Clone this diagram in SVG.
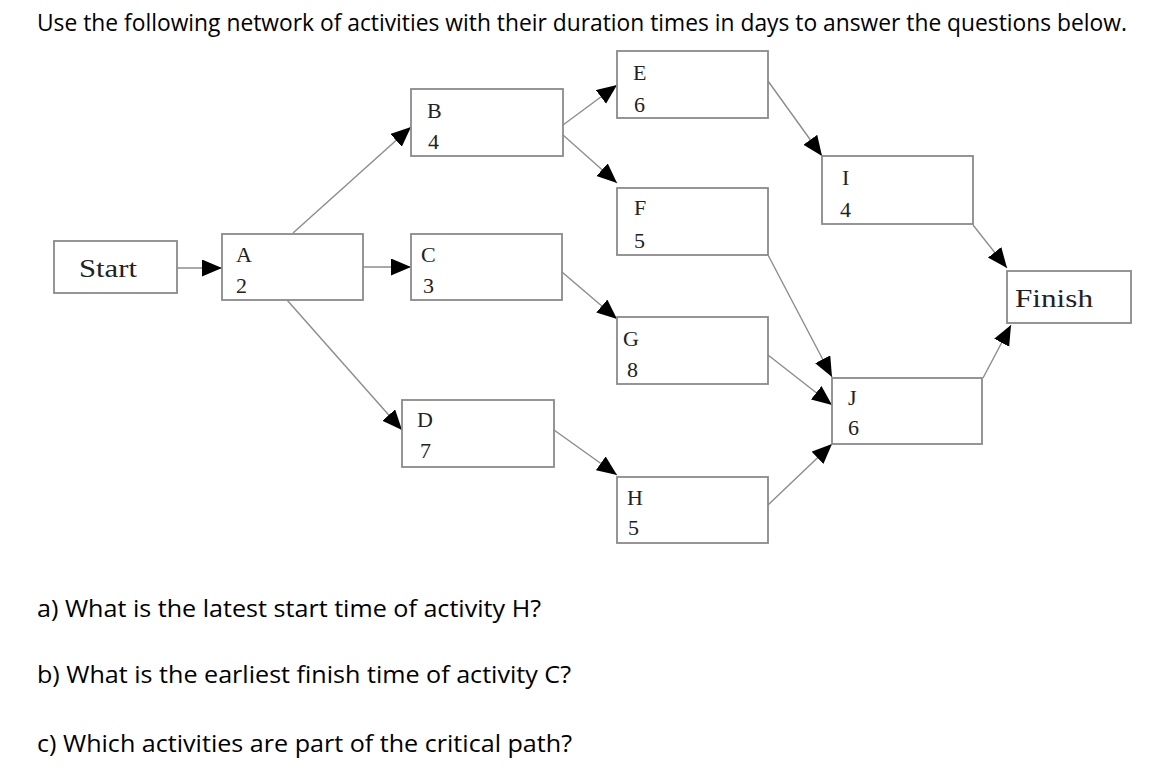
<svg xmlns="http://www.w3.org/2000/svg" width="1171" height="777" viewBox="0 0 1171 777">
<style>
.box{fill:#fff;stroke:#8a8a8a;stroke-width:1.8}
.lbl{font-family:"Liberation Serif","Times New Roman",serif;font-size:22px;fill:#222}
.big{font-family:"Liberation Serif","Times New Roman",serif;font-size:26px;fill:#222}
.q{font-family:"Open Sans","Liberation Sans",sans-serif;font-size:23px;fill:#000}
.con line{stroke:#8c8c8c;stroke-width:1.4;marker-end:url(#ah)}
</style>
<defs>
<marker id="ah" markerUnits="userSpaceOnUse" markerWidth="22" markerHeight="18" refX="20" refY="8.5" orient="auto">
<path d="M0,0 L20,8.5 L0,17 z" fill="#000"/>
</marker>
</defs>
<rect width="1171" height="777" fill="#fff"/>
<text class="q" x="37" y="31" textLength="1090" lengthAdjust="spacingAndGlyphs">Use the following network of activities with their duration times in days to answer the questions below.</text>

<g class="con" id="connectors">
<line x1="177" y1="268" x2="222" y2="268"/>
<line x1="293" y1="233" x2="411" y2="127"/>
<line x1="363" y1="267" x2="411" y2="267"/>
<line x1="287" y1="300" x2="402" y2="430"/>
<line x1="563" y1="125" x2="617" y2="85"/>
<line x1="563" y1="135" x2="617" y2="183"/>
<line x1="562" y1="272" x2="617" y2="319"/>
<line x1="554" y1="430" x2="617" y2="475"/>
<line x1="768" y1="81" x2="822" y2="156"/>
<line x1="973" y1="225" x2="1007" y2="268"/>
<line x1="768" y1="255" x2="832" y2="377"/>
<line x1="768" y1="355" x2="832" y2="405"/>
<line x1="768" y1="505" x2="832" y2="444"/>
<line x1="983" y1="378" x2="1011" y2="325"/>
</g>

<g id="start"><rect class="box" x="54" y="241" width="123" height="52"/><text class="big" x="79" y="277" textLength="58" lengthAdjust="spacingAndGlyphs">Start</text></g>
<g id="A"><rect class="box" x="222" y="234" width="141" height="66"/><text class="lbl" x="236" y="262">A</text><text class="lbl" x="236" y="293">2</text></g>
<g id="B"><rect class="box" x="411" y="89" width="152" height="67"/><text class="lbl" x="427" y="118">B</text><text class="lbl" x="428" y="149">4</text></g>
<g id="C"><rect class="box" x="411" y="234" width="151" height="66"/><text class="lbl" x="421" y="262">C</text><text class="lbl" x="423" y="293">3</text></g>
<g id="D"><rect class="box" x="402" y="400" width="152" height="67"/><text class="lbl" x="417" y="427">D</text><text class="lbl" x="420" y="458">7</text></g>
<g id="E"><rect class="box" x="617" y="51" width="151" height="67"/><text class="lbl" x="633" y="80">E</text><text class="lbl" x="634" y="112">6</text></g>
<g id="F"><rect class="box" x="617" y="188" width="151" height="67"/><text class="lbl" x="634" y="215">F</text><text class="lbl" x="634" y="248">5</text></g>
<g id="G"><rect class="box" x="617" y="317" width="151" height="67"/><text class="lbl" x="623" y="346">G</text><text class="lbl" x="627" y="377">8</text></g>
<g id="H"><rect class="box" x="617" y="477" width="151" height="66"/><text class="lbl" x="627" y="505">H</text><text class="lbl" x="628" y="535">5</text></g>
<g id="I"><rect class="box" x="822" y="156" width="151" height="68"/><text class="lbl" x="842" y="185">I</text><text class="lbl" x="840" y="217">4</text></g>
<g id="J"><rect class="box" x="832" y="378" width="150" height="66"/><text class="lbl" x="848" y="405">J</text><text class="lbl" x="848" y="435">6</text></g>
<g id="finish"><rect class="box" x="1007" y="271" width="124" height="52"/><text class="big" x="1015" y="307" textLength="78" lengthAdjust="spacingAndGlyphs">Finish</text></g>

<text class="q" x="37" y="617" textLength="504" lengthAdjust="spacingAndGlyphs">a) What is the latest start time of activity H?</text>
<text class="q" x="37" y="683" textLength="534" lengthAdjust="spacingAndGlyphs">b) What is the earliest finish time of activity C?</text>
<text class="q" x="37" y="752" textLength="535" lengthAdjust="spacingAndGlyphs">c) Which activities are part of the critical path?</text>
</svg>
